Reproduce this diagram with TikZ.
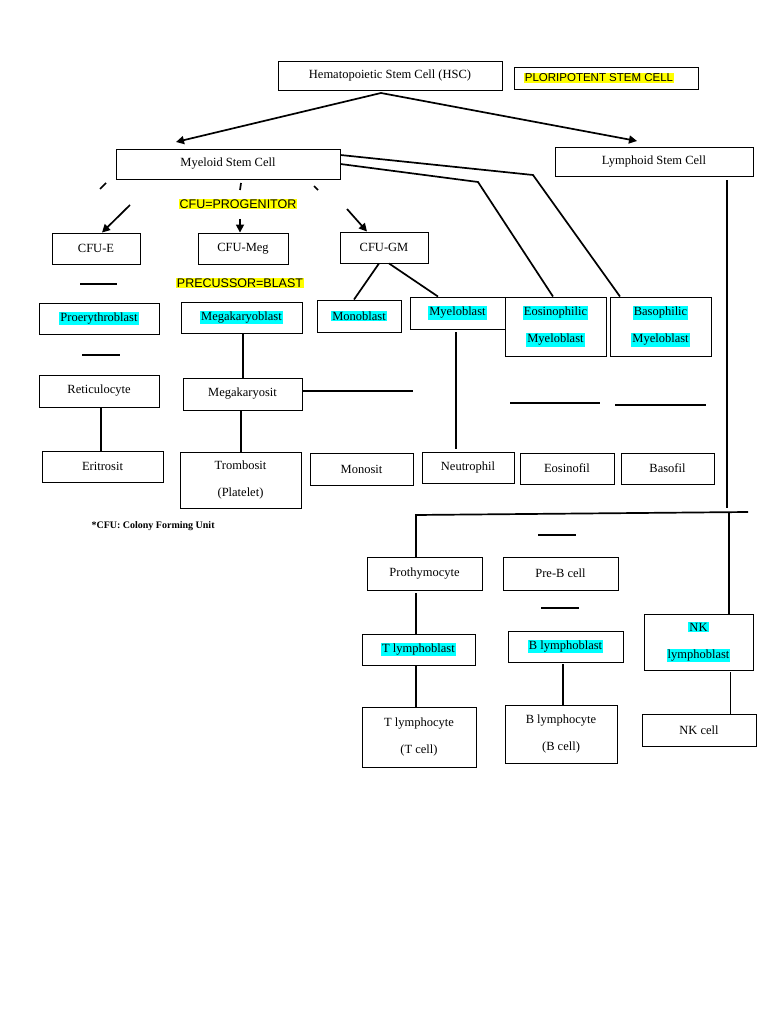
\documentclass[tikz,border=0pt]{standalone}
\usepackage{fontspec}
\setmainfont{Liberation Serif}
\newfontfamily\sansf{Liberation Sans}
\usetikzlibrary{arrows.meta}
\definecolor{hc}{HTML}{00FFFF}
\definecolor{hy}{HTML}{FFFF00}
\newcommand\hlc[1]{{\setlength\fboxsep{1pt}\colorbox{hc}{#1}}}
\newcommand\hly[1]{{\setlength\fboxsep{1pt}\colorbox{hy}{\sansf #1}}}
\newcommand\bx[6]{\node[box,minimum width=#4pt-#2pt,minimum height=#5pt-#3pt] (#1) at ({(#2+#4)/2},{(#3+#5)/2}) {#6};}
\begin{document}
\begin{tikzpicture}[x=1pt,y=-1pt,
  box/.style={draw,line width=0.9pt,inner sep=0pt,align=center,font=\fontsize{12.5}{27}\selectfont},
  ln/.style={line width=1.7pt},
  ar/.style={line width=1.7pt,-{Triangle[length=8pt,width=8pt]}}]
\useasboundingbox[fill=white] (0,0) rectangle (768,1024);
\bx{hsc}{278}{61}{502}{90}{Hematopoietic Stem Cell (HSC)}
\bx{plor}{514}{67}{698}{89}{\hly{\fontsize{11.5}{12}\selectfont PLORIPOTENT STEM CELL}\hspace{14pt}}
\bx{mye}{116}{149}{340}{179}{Myeloid Stem Cell}
\bx{lym}{555}{147}{753}{176}{Lymphoid Stem Cell}
\bx{cfue}{52}{233}{140}{264}{CFU-E}
\bx{cfumeg}{198}{233}{288}{264}{CFU-Meg}
\bx{cfugm}{340}{232}{428}{263}{CFU-GM}
\bx{proe}{39}{303}{159}{334}{\hlc{Proerythroblast}}
\bx{mkb}{181}{302}{302}{333}{\hlc{Megakaryoblast}}
\bx{mono}{317}{300}{401}{332}{\hlc{Monoblast}}
\bx{myb}{410}{297}{505}{329}{\hlc{Myeloblast}}
\bx{eosb}{505}{297}{606}{356}{\hlc{Eosinophilic}\\\hlc{Myeloblast}}
\bx{basb}{610}{297}{711}{356}{\hlc{Basophilic}\\\hlc{Myeloblast}}
\bx{ret}{39}{375}{159}{407}{Reticulocyte}
\bx{mkc}{183}{378}{302}{410}{Megakaryosit}
\bx{eri}{42}{451}{163}{482}{Eritrosit}
\bx{tro}{180}{452}{301}{508}{Trombosit\\(Platelet)}
\bx{mos}{310}{453}{413}{485}{Monosit}
\bx{neu}{422}{452}{514}{483}{Neutrophil}
\bx{eos}{520}{453}{614}{484}{Eosinofil}
\bx{bas}{621}{453}{714}{484}{Basofil}
\bx{prot}{367}{557}{482}{590}{Prothymocyte}
\bx{preb}{503}{557}{618}{590}{Pre-B cell}
\bx{tlb}{362}{634}{475}{665}{\hlc{T lymphoblast}}
\bx{blb}{508}{631}{623}{662}{\hlc{B lymphoblast}}
\bx{nklb}{644}{614}{753}{670}{\hlc{NK}\\\hlc{lymphoblast}}
\bx{tc}{362}{707}{476}{767}{T lymphocyte\\(T cell)}
\bx{bc}{505}{705}{617}{763}{B lymphocyte\\(B cell)}
\bx{nk}{642}{714}{756}{746}{NK cell}
\node (prog) at (238,204) {\hly{\fontsize{12.5}{13}\selectfont CFU=PROGENITOR}};
\node (prec) at (240,283) {\hly{\fontsize{12.5}{13}\selectfont PRECUSSOR=BLAST}};
\node[font=\bfseries\fontsize{10}{12}\selectfont,anchor=west] (note) at (88,526) {*CFU: Colony Forming Unit};
\coordinate (h0) at (381,93);
\draw[ar] (h0) -- (176,142);
\draw[ar] (h0) -- (637,141);
\draw[ln] (mye.east |- 0,164) -- (478,182) -- (eosb.north -| 553,0);
\draw[ln] (mye.east |- 0,155) -- (533,175) -- (basb.north -| 620,0);
\draw[ln] (100,189) -- (106,183);
\draw[ln] (241,183) -- (240,190);
\draw[ln] (314,186) -- (318,190);
\draw[ar] (130,205) -- (cfue.north -| 102,0);
\draw[ar] (240,219) -- (cfumeg.north -| 240,0);
\draw[ar] (347,209) -- (cfugm.north -| 367,0);
\draw[ln] (80,284) -- (117,284);
\draw[ln] (82,355) -- (120,355);
\draw[ln] (cfugm.south -| 379,0) -- (mono.north -| 354,0);
\draw[ln] (cfugm.south -| 389,0) -- (myb.north -| 438,0);
\draw[ln] (mkb.south -| 243,0) -- (mkc.north -| 243,0);
\draw[ln] (mkc.south -| 241,0) -- (tro.north -| 241,0);
\draw[ln] (mkc.east |- 0,391) -- (413,391);
\draw[ln] (ret.south -| 101,0) -- (eri.north -| 101,0);
\draw[ln] (myb.south -| 456,0) ++(0,3) -- (456,449);
\draw[ln] (510,403) -- (600,403);
\draw[ln] (615,405) -- (706,405);
\coordinate (lv) at (727,508);
\draw[ln] (lym.south -| 727,0) ++(0,4) -- (lv);
\coordinate (hl) at (415,515);
\coordinate (hr) at (748,512);
\draw[ln] (hl) -- (hr);
\draw[ln] (416,516) -- (prot.north -| 416,0);
\draw[ln] (729,513) -- (nklb.north -| 729,0);
\draw[ln] (538,535) -- (576,535);
\draw[ln] (541,608) -- (579,608);
\draw[ln] (prot.south -| 416,0) ++(0,3) -- (tlb.north -| 416,0);
\draw[ln] (tlb.south -| 416,0) -- (tc.north -| 416,0);
\draw[ln] (blb.south -| 563,0) ++(0,2) -- (bc.north -| 563,0);
\draw[line width=1pt] (nklb.south -| 730,0) ++(0,2) -- (nk.north -| 730,0);
\end{tikzpicture}
\end{document}
